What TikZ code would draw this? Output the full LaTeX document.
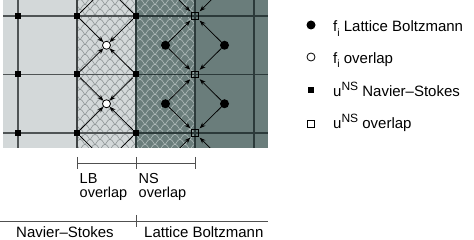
\documentclass[tikz,border=0pt]{standalone}
\usepackage{fontspec}
\setmainfont{Liberation Sans}
\usetikzlibrary{arrows.meta}
\definecolor{lightreg}{HTML}{D3D8D9}
\definecolor{darkreg}{HTML}{6A7D7B}
\definecolor{netdark}{HTML}{8A9192}
\definecolor{netlight}{HTML}{B4BFBE}
\definecolor{gridlight}{HTML}{4F5455}
\definecolor{griddark}{HTML}{2C3A3A}
\definecolor{scalecol}{HTML}{505050}
\newcommand\lsub[1]{\raisebox{-0.28em}{\fontsize{10.5}{10.5}\selectfont #1}}
\newcommand\lsup[1]{\raisebox{0.42em}{\fontsize{12}{12}\selectfont #1}}
\begin{document}
\begin{tikzpicture}[x=1pt,y=-1pt,
  fsq/.style={rectangle,fill=black,minimum size=6pt,inner sep=0pt},
  osq/.style={rectangle,draw=black,line width=0.8pt,minimum size=6.5pt,inner sep=0pt},
  fci/.style={circle,fill=black,minimum size=9pt,inner sep=0pt},
  oci/.style={circle,draw=black,fill=white,line width=0.8pt,minimum size=8pt,inner sep=0pt},
  arr/.style={draw=black,line width=0.8pt,-{Stealth[length=6pt,width=4.5pt]}},
  arrsq/.style={arr,shorten >=1.5pt},
  lbl/.style={inner sep=0pt,font=\fontsize{15}{15}\selectfont},
  olbl/.style={inner sep=0pt,align=left,anchor=north west,font=\fontsize{14.5}{14.5}\selectfont},
  gridl/.style={line width=1.3pt},
  netline/.style={line width=0.55pt},
  scaleline/.style={draw=scalecol,line width=0.9pt}
]
\useasboundingbox (0,0) rectangle (474,240);
% regions
\fill[lightreg] (3,0) rectangle (77,148);
\fill[lightreg] (77,0) rectangle (136,148);
\fill[darkreg] (136,0) rectangle (268,148);
% net patterns (rows of scallops)
\begin{scope}
\clip (77,0) rectangle (136,148);
\foreach \k in {0,...,32} {
  \draw[netdark,netline] plot[domain=72:140,samples=140] (\x,{\k*5-abs(5.5*sin(18*\x+90*\k))});
}
\end{scope}
\begin{scope}
\clip (136,0) rectangle (195,148);
\foreach \k in {0,...,32} {
  \draw[netlight,netline] plot[domain=131:200,samples=140] (\x,{\k*5-abs(5.5*sin(18*\x+90*\k))});
}
\end{scope}
% grid lines
\foreach \y in {16,74.5,133} {
  \draw[gridl,gridlight] (3,\y) -- (136,\y);
  \draw[gridl,griddark] (136,\y) -- (268,\y);
}
\draw[gridl,gridlight] (18,0) -- (18,148);
\draw[gridl,gridlight!80!black] (77,0) -- (77,148);
\draw[gridl,griddark] (136,0) -- (136,148);
\draw[gridl,griddark] (195,0) -- (195,148);
\draw[gridl,griddark] (254,0) -- (254,148);
% nodes
\node[fsq] (s10) at (18,16) {};
\node[fsq] (s11) at (77,16) {};
\node[fsq] (s12) at (136,16) {};
\node[fsq] (s20) at (18,74.5) {};
\node[fsq] (s21) at (77,74.5) {};
\node[fsq] (s22) at (136,74.5) {};
\node[fsq] (s30) at (18,133) {};
\node[fsq] (s31) at (77,133) {};
\node[fsq] (s32) at (136,133) {};
\node[osq] (o1) at (195,16) {};
\node[osq] (o2) at (195,74.5) {};
\node[osq] (o3) at (195,133) {};
\node[oci] (c1) at (106.5,45.25) {};
\node[oci] (c2) at (106.5,103.75) {};
\node[fci] (fl1) at (165.5,45.25) {};
\node[fci] (fr1) at (224.5,45.25) {};
\node[fci] (fl2) at (165.5,103.75) {};
\node[fci] (fr2) at (224.5,103.75) {};
\coordinate (c0) at (106.5,-13.25);
\coordinate (c3) at (106.5,162.25);
\coordinate (fl0) at (165.5,-13.25);
\coordinate (fr0) at (224.5,-13.25);
\coordinate (fl3) at (165.5,162.25);
\coordinate (fr3) at (224.5,162.25);
% connectors
\begin{scope}
\clip (3,0) rectangle (268,148);
\draw[arr] (s11) -- (c0);
\draw[arr] (s12) -- (c0);
\draw[arr] (s11) -- (c1);
\draw[arr] (s12) -- (c1);
\draw[arr] (s21) -- (c1);
\draw[arr] (s22) -- (c1);
\draw[arr] (s21) -- (c2);
\draw[arr] (s22) -- (c2);
\draw[arr] (s31) -- (c2);
\draw[arr] (s32) -- (c2);
\draw[arr] (s31) -- (c3);
\draw[arr] (s32) -- (c3);
\draw[arrsq] (fl0) -- (o1);
\draw[arrsq] (fr0) -- (o1);
\draw[arrsq] (fl1) -- (o1);
\draw[arrsq] (fr1) -- (o1);
\draw[arrsq] (fl1) -- (o2);
\draw[arrsq] (fr1) -- (o2);
\draw[arrsq] (fl2) -- (o2);
\draw[arrsq] (fr2) -- (o2);
\draw[arrsq] (fl2) -- (o3);
\draw[arrsq] (fr2) -- (o3);
\draw[arrsq] (fl3) -- (o3);
\draw[arrsq] (fr3) -- (o3);
\end{scope}
% legend
\node[fci] (lg1) at (311,25) {};
\node[oci] (lg2) at (311,57) {};
\node[fsq] (lg3) at (311,90) {};
\node[osq] (lg4) at (311,124) {};
\node[lbl,anchor=base west] (lt1) at (333,32) {f\lsub{i} Lattice Boltzmann};
\node[lbl,anchor=base west] (lt2) at (333,63.5) {f\lsub{i} overlap};
\node[lbl,anchor=base west] (lt3) at (333,97) {u\lsup{NS} Navier–Stokes};
\node[lbl,anchor=base west] (lt4) at (333,129) {u\lsup{NS} overlap};
% overlap scale
\draw[scaleline] (77,163) -- (195,163);
\draw[scaleline] (77,157) -- (77,169);
\draw[scaleline] (136,157) -- (136,169);
\draw[scaleline] (195,157) -- (195,169);
\node[olbl] (lbo) at (79.5,173) {LB\\overlap};
\node[olbl] (nso) at (138.5,173) {NS\\overlap};
% domain scale
\draw[scaleline] (0,221) -- (268,221);
\draw[scaleline] (136,215) -- (136,227);
\node[lbl,anchor=base west] (nsd) at (16,237) {Navier–Stokes};
\node[lbl,anchor=base west] (lbd) at (144,237) {Lattice Boltzmann};
\end{tikzpicture}
\end{document}
